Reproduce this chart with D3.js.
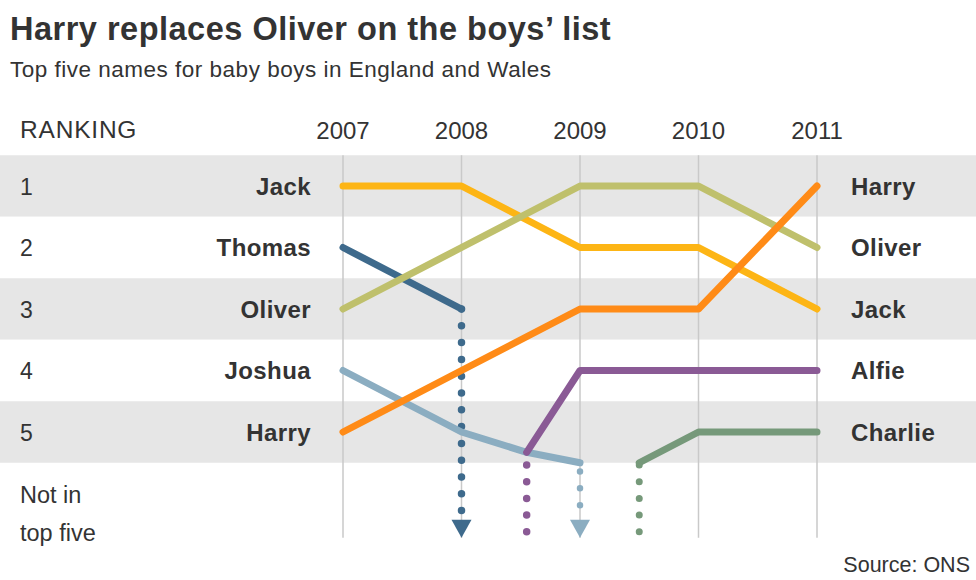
<!DOCTYPE html>
<html><head><meta charset="utf-8">
<script src="https://cdn.jsdelivr.net/npm/d3@7"></script>
<style>body{margin:0;background:#fff}svg{display:block}</style>
</head><body><svg id="c" width="976" height="580"></svg>
<script>
// ---- data ----
const years = [2007, 2008, 2009, 2010, 2011];
const ranks = [1, 2, 3, 4, 5];
const leftNames = ["Jack", "Thomas", "Oliver", "Joshua", "Harry"];
const rightNames = ["Harry", "Oliver", "Jack", "Alfie", "Charlie"];
const OUT_RANK = 5.5;     // edge of the "not in top five" zone
const FLOOR_RANK = 6.72;  // bottom of the chart

const jack    = [[2007, 1], [2008, 1], [2009, 2], [2010, 2], [2011, 3]];
const oliver  = [[2007, 3], [2008, 2], [2009, 1], [2010, 1], [2011, 2]];
const harry   = [[2007, 5], [2008, 4], [2009, 3], [2010, 3], [2011, 1]];
const thomas  = [[2007, 2], [2008, 3]];
const joshua  = [[2007, 4], [2008, 5], [2008.55, 5.33], [2009, 5.5]];
const alfie   = [[2008.55, 5.33], [2009, 4], [2010, 4], [2011, 4]];
const charlie = [[2009.5, 5.5], [2010, 5], [2011, 5]];

const series = [
  {name: "Thomas",  data: thomas,  color: "#3e6a8c", move: "drop", dot: 7.5, off: 0},
  {name: "Joshua",  data: joshua,  color: "#8badc1", move: "drop", dot: 6.5, off: 8},
  {name: "Jack",    data: jack,    color: "#fdb515"},
  {name: "Oliver",  data: oliver,  color: "#bfc06c"},
  {name: "Alfie",   data: alfie,   color: "#8a5a95", move: "enter", dot: 7.5},
  {name: "Charlie", data: charlie, color: "#76997a", move: "enter", dot: 7}
  ,{name: "Harry",  data: harry,   color: "#ff8b17"}
];

// ---- layout ----
const svg = d3.select("#c");
const W = 976;
const x = d3.scaleLinear().domain([2007, 2011]).range([343, 817]);
const y = d3.scaleLinear().domain([1, 5]).range([186, 432]);
const txt = "#333333";
const font = "'Liberation Sans', Arial, Helvetica, sans-serif";

// bands
svg.append("g").selectAll("rect").data(ranks).join("rect")
  .attr("x", 0).attr("width", W)
  .attr("y", d => y(d - 0.5)).attr("height", d => y(d + 0.5) - y(d - 0.5))
  .attr("fill", d => d % 2 ? "#e6e6e6" : "#ffffff");

// vertical grid
svg.append("g").selectAll("line").data(years).join("line")
  .attr("x1", d => x(d)).attr("x2", d => x(d))
  .attr("y1", y(0.5)).attr("y2", y(FLOOR_RANK))
  .attr("stroke", "#c9c9c9").attr("stroke-width", 1.5);

// title
svg.append("text").attr("x", 10).attr("y", 40)
  .attr("font-family", font).attr("font-weight", "bold").attr("font-size", 32.5)
  .attr("letter-spacing", 0.5).attr("fill", txt)
  .text("Harry replaces Oliver on the boys\u2019 list");
svg.append("text").attr("x", 10).attr("y", 77)
  .attr("font-family", font).attr("font-size", 22.5).attr("letter-spacing", 0.5)
  .attr("fill", txt).text("Top five names for baby boys in England and Wales");

// header row
svg.append("text").attr("x", 20).attr("y", 138)
  .attr("font-family", font).attr("font-size", 24.5).attr("letter-spacing", 0.8)
  .attr("fill", txt).text("RANKING");
svg.append("g").selectAll("text").data(years).join("text")
  .attr("x", d => x(d)).attr("y", 139).attr("text-anchor", "middle")
  .attr("font-family", font).attr("font-size", 24).attr("fill", txt)
  .text(d => d);

// rank numbers
svg.append("g").selectAll("text").data(ranks).join("text")
  .attr("x", 20).attr("y", d => y(d) + 8.5)
  .attr("font-family", font).attr("font-size", 23).attr("fill", txt)
  .text(d => d);

// not in top five
svg.append("text").attr("x", 20).attr("y", 503)
  .attr("font-family", font).attr("font-size", 23.5).attr("fill", txt).text("Not in");
svg.append("text").attr("x", 20).attr("y", 541)
  .attr("font-family", font).attr("font-size", 23.5).attr("fill", txt).text("top five");

// names
svg.append("g").selectAll("text").data(leftNames).join("text")
  .attr("x", 311).attr("y", (d, i) => y(ranks[i]) + 8.5).attr("text-anchor", "end")
  .attr("font-family", font).attr("font-weight", "bold").attr("font-size", 24)
  .attr("letter-spacing", 0.4).attr("fill", txt).text(d => d);
svg.append("g").selectAll("text").data(rightNames).join("text")
  .attr("x", 851).attr("y", (d, i) => y(ranks[i]) + 8.5)
  .attr("font-family", font).attr("font-weight", "bold").attr("font-size", 24)
  .attr("letter-spacing", 0.4).attr("fill", txt).text(d => d);

// source
svg.append("text").attr("x", 970).attr("y", 572).attr("text-anchor", "end")
  .attr("font-family", font).attr("font-size", 21.5)
  .attr("fill", txt).text("Source: ONS");

// lines
const line = d3.line().x(d => x(d[0])).y(d => y(d[1]));
const gL = svg.append("g");
const arrowH = 18, arrowW = 10;
series.forEach(s => {
  if (s.move === "drop") {
    const last = s.data[s.data.length - 1];
    const xx = x(last[0]);
    gL.append("line")
      .attr("x1", xx).attr("x2", xx)
      .attr("y1", y(last[1])).attr("y2", y(FLOOR_RANK) - arrowH - 3)
      .attr("stroke", s.color).attr("stroke-width", s.dot)
      .attr("stroke-linecap", "round").attr("stroke-dasharray", "0 16.8")
      .attr("stroke-dashoffset", s.off);
    const yb = y(FLOOR_RANK);
    gL.append("path")
      .attr("d", `M${xx - arrowW},${yb - arrowH}L${xx + arrowW},${yb - arrowH}L${xx},${yb}Z`)
      .attr("fill", s.color);
  }
  if (s.move === "enter") {
    const first = s.data[0];
    const xx = x(first[0]);
    gL.append("line")
      .attr("x1", xx).attr("x2", xx)
      .attr("y1", y(FLOOR_RANK) - 6).attr("y2", y(first[1]))
      .attr("stroke", s.color).attr("stroke-width", s.dot)
      .attr("stroke-linecap", "round").attr("stroke-dasharray", "0 16.7");
  }
});
series.forEach(s => {
  gL.append("path").datum(s.data).attr("d", line)
    .attr("fill", "none").attr("stroke", s.color).attr("stroke-width", 7)
    .attr("stroke-linecap", "round").attr("stroke-linejoin", "round");
});
</script>
</body></html>
